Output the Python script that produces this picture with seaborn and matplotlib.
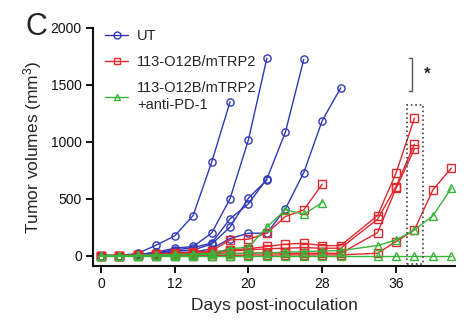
import numpy as np
import pandas as pd
import matplotlib
matplotlib.use("Agg")
import matplotlib.pyplot as plt
from matplotlib.lines import Line2D
from matplotlib.patches import Rectangle
import seaborn as sns

# ---------------- data ----------------
days_ut = [0, 3, 6, 9, 12, 14, 16, 18, 20, 22, 24, 26, 28, 30]
days_tx = [0, 3, 6, 9, 12, 14, 16, 18, 20, 22, 24, 26, 28, 30, 34, 36, 38, 40, 42]

ut_1 = [0, 0, 20, 92, 173, 352, 818, 1350]
ut_2 = [0, 0, 10, 30, 65, 80, 197, 499, 1018, 1735]
ut_3 = [0, 0, 8, 25, 50, 70, 110, 323, 455, 675, 1083, 1725]
ut_4 = [0, 0, 5, 15, 30, 30, 60, 150, 197, 197, 410, 730, 1186, 1473]
ut_5 = [0, 0, 5, 20, 40, 50, 100, 250, 505, 665]

vac_1 = [0, 0, 5, 10, 20, 30, 40, 138, 144, 197, 343, 402, 628]
vac_2 = [0, 0, 5, 10, 15, 20, 30, 50, 60, 80, 100, 109, 88, 88, 352, 725, 1209]
vac_3 = [0, 0, 3, 8, 10, 15, 20, 40, 50, 60, 65, 70, 65, 65, 320, 607, 980]
vac_4 = [0, 0, 3, 5, 8, 10, 15, 20, 20, 25, 20, 20, 20, 20, 202, 590, 937]
vac_5 = [0, 0, 0, 0, 0, 0, 0, 0, 5, 5, 6, 6, 6, 6, 21, 123, 226, 578, 769]

pd1_1 = [0, 0, 3, 5, 10, 15, 20, 60, 74, 250, 402, 364, 466]
pd1_2 = [0, 0, 0, 3, 5, 8, 10, 15, 20, 25, 30, 35, 40, 44, 88, 138, 226, 349, 593]
pd1_3 = [0, 0, 0, 0, 0, 0, 0, 0, 0, 0, 0, 0, 0, 0, 0, 0, 0, 0, 0]

groups = ["UT", "113-O12B/mTRP2", "113-O12B/mTRP2\n+anti-PD-1"]
x_ticks = [0, 12, 20, 28, 36]
y_ticks = [0, 500, 1000, 1500, 2000]

mice = [
    (groups[0], "ut1", days_ut, ut_1), (groups[0], "ut2", days_ut, ut_2),
    (groups[0], "ut3", days_ut, ut_3), (groups[0], "ut4", days_ut, ut_4),
    (groups[0], "ut5", days_ut, ut_5),
    (groups[1], "v1", days_tx, vac_1), (groups[1], "v2", days_tx, vac_2),
    (groups[1], "v3", days_tx, vac_3), (groups[1], "v4", days_tx, vac_4),
    (groups[1], "v5", days_tx, vac_5),
    (groups[2], "p1", days_tx, pd1_1), (groups[2], "p2", days_tx, pd1_2),
    (groups[2], "p3", days_tx, pd1_3),
]
rows = []
for g, m, d, v in mice:
    for dd, vv in zip(d, v):
        rows.append({"group": g, "mouse": m, "day": dd, "vol": vv})
df = pd.DataFrame(rows)

# ---------------- style ----------------
sns.set_style("ticks")
plt.rcParams["font.family"] = ["Liberation Sans", "DejaVu Sans"]
plt.rcParams["mathtext.fontset"] = "custom"
plt.rcParams["mathtext.rm"] = "Liberation Sans"
plt.rcParams["mathtext.it"] = "Liberation Sans:italic"

colors = {groups[0]: "#2f39b8", groups[1]: "#e2282d", groups[2]: "#38b538"}
markers = {groups[0]: "o", groups[1]: "s", groups[2]: "^"}

fig = plt.figure(figsize=(4.74, 3.25), dpi=100)
ax = fig.add_axes([0.196, 0.182, 0.764, 0.732])

def fwd(d):
    d = np.asarray(d, dtype=float)
    return np.where(d <= 12, d * 2.0 / 3.0, d - 4.0)

def inv(p):
    p = np.asarray(p, dtype=float)
    return np.where(p <= 8, p * 1.5, p + 4.0)

ax.set_xscale("function", functions=(fwd, inv))

sns.lineplot(data=df, x="day", y="vol", hue="group", style="group",
             units="mouse", estimator=None, palette=colors, markers=markers,
             dashes=False, legend=False, linewidth=1.0, markersize=5.2,
             sort=False, ax=ax)

for ln in ax.lines:
    c = ln.get_color()
    ln.set_markerfacecolor("none")
    ln.set_markeredgecolor(c)
    ln.set_markeredgewidth(1.0)

ax.set_xlim(-1.3, 42.4)
ax.set_ylim(-90, 2000)
ax.set_xticks(x_ticks)
ax.set_xticklabels([str(t) for t in x_ticks])
ax.set_yticks(y_ticks)
ax.xaxis.set_minor_locator(matplotlib.ticker.NullLocator())
ax.tick_params(axis="both", direction="out", length=5, width=1.4,
               labelsize=10, colors="#111111", pad=3)
for s in ["left", "bottom"]:
    ax.spines[s].set_linewidth(1.5)
    ax.spines[s].set_color("#111111")
sns.despine(ax=ax)

ax.set_xlabel("Days post-inoculation", fontsize=12.5, labelpad=5)
ax.set_ylabel("Tumor volumes (mm$^3$)", fontsize=12.5, labelpad=5)

# dotted box around day-38 points
ax.add_patch(Rectangle((37.2, -70), 1.7, 1390, fill=False, linestyle=":",
                       linewidth=1.2, edgecolor="#444444", zorder=5))
# significance bracket
ax.plot([37.4, 37.7, 37.7, 37.4], [1738, 1738, 1450, 1450],
        color="#555555", linewidth=1.0, clip_on=False)
ax.text(39.4, 1590, "*", fontsize=12, ha="center", va="center",
        fontweight="bold")

handles = [Line2D([0], [0], color=colors[g], marker=markers[g],
                  markerfacecolor="none", markeredgecolor=colors[g],
                  markersize=5, linewidth=1.0) for g in groups]
ax.legend(handles, groups, loc="upper left", bbox_to_anchor=(0.005, 1.04),
          frameon=False, fontsize=10.5, handlelength=1.6, handletextpad=0.6,
          labelspacing=0.85, borderaxespad=0.3)

fig.text(0.053, 0.892, "C", fontsize=22, va="baseline", ha="left")

fig.savefig("out.png", dpi=100)
